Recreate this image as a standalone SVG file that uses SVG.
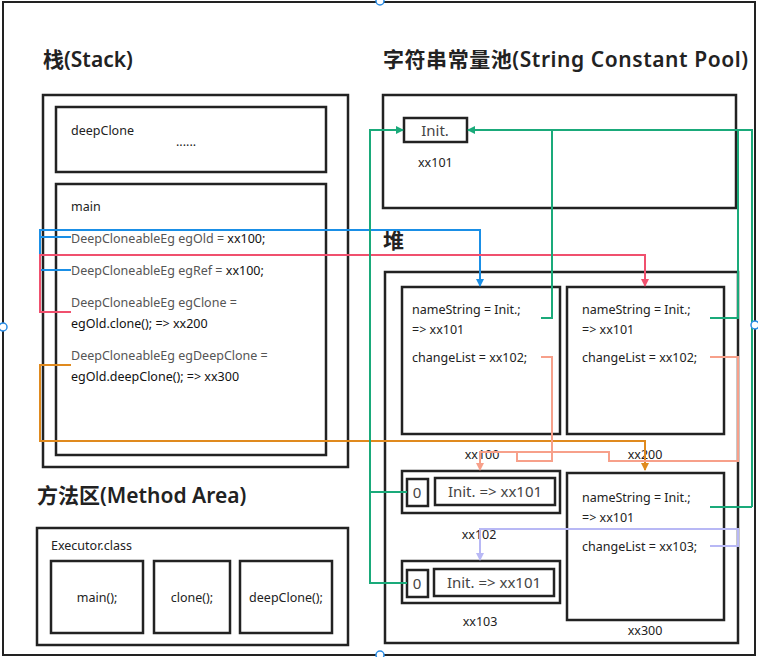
<svg xmlns="http://www.w3.org/2000/svg" width="758" height="657" viewBox="0 0 758 657">
<style>
.b{fill:#fff;stroke:#222;stroke-width:2.5}
.t{font-family:"Noto Sans","Noto Sans CJK SC",sans-serif;font-size:12.5px;fill:#222}
.g{fill:#555}
.d{fill:#111}
.h{font-family:"Noto Sans","Noto Sans CJK SC",sans-serif;font-size:21px;font-weight:600;fill:#222}
.c{fill:none;stroke-width:2}
.hd{fill:#fff;stroke:#2a8de6;stroke-width:1.5}
</style>
<defs>
<marker id="ab" markerWidth="8" markerHeight="8" refX="7" refY="4" orient="auto" markerUnits="userSpaceOnUse" viewBox="0 0 8 8"><path d="M0,0L8,4L0,8z" fill="#1a8fe6"/></marker>
<marker id="ap" markerWidth="8" markerHeight="8" refX="7" refY="4" orient="auto" markerUnits="userSpaceOnUse" viewBox="0 0 8 8"><path d="M0,0L8,4L0,8z" fill="#f0506e"/></marker>
<marker id="ao" markerWidth="8" markerHeight="8" refX="7" refY="4" orient="auto" markerUnits="userSpaceOnUse" viewBox="0 0 8 8"><path d="M0,0L8,4L0,8z" fill="#e08a1e"/></marker>
<marker id="ag" markerWidth="8" markerHeight="8" refX="7" refY="4" orient="auto" markerUnits="userSpaceOnUse" viewBox="0 0 8 8"><path d="M0,0L8,4L0,8z" fill="#1aaa7a"/></marker>
<marker id="as" markerWidth="8" markerHeight="8" refX="7" refY="4" orient="auto" markerUnits="userSpaceOnUse" viewBox="0 0 8 8"><path d="M0,0L8,4L0,8z" fill="#f7a08a"/></marker>
<marker id="al" markerWidth="8" markerHeight="8" refX="7" refY="4" orient="auto" markerUnits="userSpaceOnUse" viewBox="0 0 8 8"><path d="M0,0L8,4L0,8z" fill="#b8b8f5"/></marker>
</defs>
<rect x="0" y="0" width="758" height="657" fill="#fff"/>
<rect x="3" y="2" width="752" height="653" fill="none" stroke="#222" stroke-width="2"/>

<g id="stack">
<text class="h" x="43" y="67">栈(Stack)</text>
<rect class="b" x="43" y="95" width="305" height="372"/>
<g id="deepClone"><rect class="b" x="56" y="107" width="270" height="65"/>
<text class="t" x="71" y="135">deepClone</text><text class="t" x="176" y="146">......</text></g>
<g id="main"><rect class="b" x="56" y="184" width="270" height="271"/>
<text class="t" x="71" y="211">main</text>
<text class="t" x="71" y="243"><tspan class="g">DeepCloneableEg egOld = </tspan><tspan class="d">xx100;</tspan></text>
<text class="t" x="71" y="275"><tspan class="g">DeepCloneableEg egRef =  </tspan><tspan class="d">xx100;</tspan></text>
<text class="t g" x="71" y="307">DeepCloneableEg egClone =</text>
<text class="t d" x="71" y="328">egOld.clone(); =&gt; xx200</text>
<text class="t g" x="71" y="360">DeepCloneableEg egDeepClone =</text>
<text class="t d" x="71" y="381">egOld.deepClone(); =&gt; xx300</text></g>
</g>

<g id="method">
<text class="h" x="37" y="503">方法区(Method Area)</text>
<rect class="b" x="37" y="528" width="311" height="117"/>
<text class="t" x="51" y="550">Executor.class</text>
<rect class="b" x="51" y="561" width="92" height="72"/><text class="t" x="97" y="602" text-anchor="middle">main();</text>
<rect class="b" x="154" y="561" width="76" height="72"/><text class="t" x="192" y="602" text-anchor="middle">clone();</text>
<rect class="b" x="240" y="561" width="92" height="72"/><text class="t" x="286" y="602" text-anchor="middle">deepClone();</text>
</g>

<g id="pool">
<text class="h" x="383" y="67" textLength="365">字符串常量池(String Constant Pool)</text>
<rect class="b" x="383" y="95" width="353" height="113"/>
<rect class="b" x="404" y="118" width="63" height="24"/>
<text class="t" x="435" y="136" text-anchor="middle" style="font-size:15px;fill:#444">Init.</text>
<text class="t" x="418" y="167">xx101</text>
</g>

<g id="heap">
<text class="h" x="383" y="248">堆</text>
<rect class="b" x="385" y="272" width="353" height="371"/>
</g>
<g id="xx100"><rect class="b" x="402" y="287" width="158" height="147"/>
<text class="t" x="412" y="314">nameString = Init.;</text><text class="t" x="412" y="334">=&gt; xx101</text>
<text class="t" x="412" y="362">changeList = xx102;</text><text class="t" x="482" y="459" text-anchor="middle">xx100</text></g>
<g id="xx200"><rect class="b" x="567" y="287" width="157" height="147"/>
<text class="t" x="582" y="314">nameString = Init.;</text><text class="t" x="582" y="334">=&gt; xx101</text>
<text class="t" x="582" y="362">changeList = xx102;</text><text class="t" x="645" y="459" text-anchor="middle">xx200</text></g>
<g id="xx102"><rect class="b" x="402" y="471" width="158" height="42"/>
<rect class="b" x="407" y="479" width="21" height="27"/><text class="t" x="417" y="498" text-anchor="middle" style="font-size:15px;fill:#444">0</text>
<rect class="b" x="435" y="478" width="120" height="27"/><text class="t" x="495" y="497" text-anchor="middle" style="font-size:15px;fill:#444">Init. =&gt; xx101</text>
<text class="t" x="479" y="539" text-anchor="middle">xx102</text></g>
<g id="xx103"><rect class="b" x="402" y="561" width="158" height="42"/>
<rect class="b" x="407" y="570" width="21" height="27"/><text class="t" x="417" y="589" text-anchor="middle" style="font-size:15px;fill:#444">0</text>
<rect class="b" x="434" y="569" width="120" height="27"/><text class="t" x="494" y="588" text-anchor="middle" style="font-size:15px;fill:#444">Init. =&gt; xx101</text>
<text class="t" x="480" y="626" text-anchor="middle">xx103</text></g>
<g id="xx300"><rect class="b" x="567" y="473" width="157" height="147"/>
<text class="t" x="582" y="502">nameString = Init.;</text><text class="t" x="582" y="522">=&gt; xx101</text>
<text class="t" x="582" y="551">changeList = xx103;</text><text class="t" x="645" y="635" text-anchor="middle">xx300</text></g>

<g id="connectors">
<path class="c" stroke="#1a8fe6" d="M71,237H40V230H480V286" marker-end="url(#ab)"/>
<path class="c" stroke="#1a8fe6" d="M71,270H40V230"/>
<path class="c" stroke="#f0506e" d="M71,312H40V255H645V286" marker-end="url(#ap)"/>
<path class="c" stroke="#e08a1e" d="M71,365H40V441H645V470" marker-end="url(#ao)"/>
<path class="c" stroke="#1aaa7a" d="M407,492H370V130H403" marker-end="url(#ag)"/>
<path class="c" stroke="#1aaa7a" d="M407,583H370V490"/>
<path class="c" stroke="#1aaa7a" d="M752,507H710M752,507V130H468" marker-end="url(#ag)"/>
<path class="c" stroke="#1aaa7a" d="M541,318H552V130M710,318H738V130"/>
<path class="c" stroke="#f7a08a" d="M541,357H552V461H517V452"/>
<path class="c" stroke="#f7a08a" d="M710,357H738V461H609V452H480V470" marker-end="url(#as)"/>
<path class="c" stroke="#b8b8f5" d="M710,546H738V529H480V560" marker-end="url(#al)"/>
</g>
<circle class="hd" cx="380" cy="1" r="4"/><circle class="hd" cx="3" cy="327" r="4"/><circle class="hd" cx="755" cy="325" r="4"/><circle class="hd" cx="380" cy="655" r="4"/>
</svg>
